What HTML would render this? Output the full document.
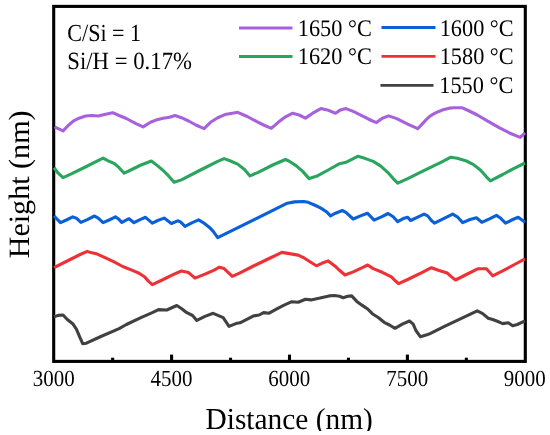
<!DOCTYPE html>
<html><head><meta charset="utf-8"><style>
html,body{margin:0;padding:0;background:#fff;}
body{width:550px;height:435px;overflow:hidden;position:relative;}
svg{position:absolute;left:0;top:0;}
text{font-family:"Liberation Serif","Times New Roman",serif;fill:#000;text-rendering:geometricPrecision;}
</style></head><body>
<svg width="550" height="435" viewBox="0 0 550 435">
<rect width="550" height="435" fill="#fff"/>
<g stroke="#000" stroke-width="3.1" fill="none">
<rect x="53.7" y="6.4" width="471.60" height="355.00" stroke-linejoin="miter"/>
<line x1="112.65" y1="361.4" x2="112.65" y2="357.7" /><line x1="171.60" y1="361.4" x2="171.60" y2="354.59999999999997" /><line x1="230.55" y1="361.4" x2="230.55" y2="357.7" /><line x1="289.50" y1="361.4" x2="289.50" y2="354.59999999999997" /><line x1="348.45" y1="361.4" x2="348.45" y2="357.7" /><line x1="407.40" y1="361.4" x2="407.40" y2="354.59999999999997" /><line x1="466.35" y1="361.4" x2="466.35" y2="357.7" />
</g>
<g fill="none" stroke-width="3.1" stroke-linejoin="round" stroke-linecap="butt">
<polyline stroke="#a761dc" points="54.5,126.9 63.1,130.9 68.2,125.5 73.6,120.9 79.1,118.2 85.5,116.0 91.8,115.5 98.2,116.0 104.5,114.5 112.7,112.7 119.1,115.5 126.4,118.5 135.5,123.3 143.1,126.9 150.5,122.3 155.9,120.1 163.2,118.3 169.5,117.2 175.0,115.5 181.4,117.7 188.6,121.0 195.9,125.0 204.1,128.6 210.5,122.3 217.7,117.7 225.0,114.6 232.3,113.2 237.7,112.3 247.3,116.5 256.4,121.4 263.6,125.0 271.3,128.3 278.2,122.3 285.5,116.8 292.7,113.2 299.1,115.0 305.5,118.1 312.7,113.2 320.9,108.6 327.3,109.9 335.5,113.2 340.5,109.9 345.9,108.6 353.2,111.4 362.3,115.9 371.4,120.5 376.5,122.6 382.3,118.3 388.6,115.9 396.8,118.6 407.7,124.1 417.7,128.7 422.1,124.1 426.1,119.7 430.1,116.1 434.1,113.7 438.2,111.7 442.2,110.1 446.2,109.0 450.0,108.1 453.6,107.7 461.8,107.7 468.2,110.5 477.3,115.0 488.2,121.4 499.1,127.7 510.0,133.2 520.2,137.4 525.0,132.8"/>
<polyline stroke="#2aa55e" points="54.0,167.7 58.2,173.2 63.1,177.7 71.8,173.7 86.4,166.5 95.5,161.9 103.1,158.1 108.2,160.8 114.5,163.7 119.1,167.7 124.2,173.2 131.8,169.5 140.9,165.0 151.4,161.0 157.7,165.9 163.2,170.5 168.6,175.9 174.1,182.3 181.4,179.9 199.5,170.5 217.7,161.4 224.1,158.6 230.5,161.0 237.7,164.1 244.5,169.5 250.0,175.9 258.2,172.3 272.7,165.0 285.5,159.5 290.0,161.7 296.4,165.9 302.7,171.4 309.1,178.6 316.4,176.3 327.3,170.5 339.6,163.7 345.9,162.3 357.7,156.3 364.1,158.1 373.2,161.4 380.5,165.9 387.7,172.3 393.2,178.6 397.7,183.2 407.7,178.6 422.3,171.4 440.9,162.3 450.9,157.2 457.3,158.3 466.4,161.0 473.6,164.6 480.9,170.5 486.4,176.8 490.4,180.8 502.7,174.5 513.6,168.6 525.0,163.0"/>
<polyline stroke="#0a60d9" points="54.0,216.0 60.5,222.7 66.4,220.0 72.7,216.9 76.4,218.2 80.9,222.4 87.3,219.6 94.5,216.0 98.2,218.2 103.1,222.7 109.1,220.0 115.5,216.9 118.2,218.7 121.8,222.4 129.1,218.7 134.0,222.7 140.0,219.6 145.5,217.3 152.3,223.2 157.7,220.5 164.1,218.1 171.4,223.5 177.7,220.8 180.5,221.9 185.0,226.3 192.3,222.6 198.6,219.9 203.2,222.6 209.5,227.4 213.2,231.4 217.7,237.7 287.3,203.2 294.5,201.9 303.6,201.5 308.2,202.3 314.5,205.0 320.9,208.1 326.4,211.7 330.5,215.9 335.5,213.2 342.3,210.5 345.9,212.3 353.2,219.0 360.5,215.9 367.4,213.2 374.1,220.1 381.4,216.8 388.1,213.5 393.2,216.8 397.7,221.7 403.2,218.6 407.7,217.2 410.5,220.5 417.7,217.2 424.1,214.1 427.7,215.9 431.4,220.5 434.5,223.2 443.6,218.6 452.7,214.1 457.3,216.8 462.7,222.6 470.0,219.5 476.4,217.7 481.8,222.3 490.0,218.6 496.4,215.4 500.0,217.7 505.5,223.2 512.7,219.5 518.2,217.2 525.0,222.2"/>
<polyline stroke="#ee3136" points="54.0,267.7 68.2,260.5 79.1,255.0 87.3,251.4 90.9,252.6 97.3,254.1 104.5,257.4 113.6,261.7 122.7,266.5 131.8,270.1 139.1,273.2 144.5,276.8 148.6,281.4 152.3,284.6 163.2,279.5 174.1,274.1 181.4,271.0 188.6,272.6 195.0,278.1 205.0,274.1 214.1,270.1 219.5,267.2 224.1,268.6 232.3,276.3 239.5,273.2 254.5,265.5 269.1,258.5 281.8,252.4 286.4,253.1 298.2,255.1 304.5,258.2 310.0,261.8 316.4,265.8 321.8,263.3 328.2,260.9 335.5,266.4 338.6,269.5 345.0,275.0 353.2,271.9 362.3,267.7 367.7,265.0 373.2,268.6 382.3,272.3 391.4,276.8 395.0,280.5 398.6,283.7 407.7,279.5 422.3,272.3 431.4,267.7 439.1,270.5 447.3,273.1 450.9,276.4 455.5,280.0 466.4,274.5 478.2,268.7 486.4,268.7 492.7,275.8 502.7,270.9 515.5,264.0 525.0,258.8"/>
<polyline stroke="#414141" points="54.0,316.8 58.2,315.4 63.1,315.0 67.3,319.5 72.7,323.7 76.4,329.2 80.0,337.7 82.7,343.7 86.4,343.2 100.9,336.5 119.1,328.6 126.4,324.5 140.9,317.7 152.3,312.7 158.6,309.6 166.8,310.0 176.8,305.5 181.4,308.5 186.8,312.7 192.6,315.5 196.8,320.4 205.0,316.4 213.2,313.3 223.2,317.6 229.0,326.4 235.9,323.6 240.0,322.8 247.3,319.2 253.6,315.9 259.1,315.0 263.6,312.6 269.1,313.2 276.4,309.2 283.6,305.4 291.8,301.7 298.2,302.3 305.5,299.2 310.9,299.9 320.0,298.1 329.1,295.9 334.5,295.5 339.5,296.3 343.2,297.7 347.7,296.3 351.7,295.9 356.8,301.4 362.3,305.4 367.7,309.0 372.3,313.7 378.6,317.7 384.1,322.3 389.5,325.0 395.0,328.3 402.3,324.1 409.5,321.0 413.2,324.1 415.9,330.5 420.5,336.8 427.7,334.5 430.0,333.6 444.5,326.4 460.9,318.7 477.3,310.9 482.7,313.6 488.2,318.2 492.7,319.5 497.3,321.3 502.7,323.6 508.2,322.7 512.7,325.8 517.3,324.5 525.0,320.9"/>
</g>
<text transform="translate(53.75,386.40) scale(1.000,1.100)" font-size="21.0" text-anchor="middle">3000</text><text transform="translate(171.60,386.40) scale(1.000,1.100)" font-size="21.0" text-anchor="middle">4500</text><text transform="translate(289.25,386.40) scale(1.000,1.100)" font-size="21.0" text-anchor="middle">6000</text><text transform="translate(407.25,386.40) scale(1.000,1.100)" font-size="21.0" text-anchor="middle">7500</text><text transform="translate(524.75,386.40) scale(1.000,1.100)" font-size="21.0" text-anchor="middle">9000</text>
<g stroke-width="2.9">
<line x1="239" y1="28" x2="292.5" y2="28" stroke="#a761dc"/>
<line x1="239" y1="56.5" x2="292.5" y2="56.5" stroke="#2aa55e"/>
<line x1="381.5" y1="27.5" x2="435.5" y2="27.5" stroke="#0a60d9"/>
<line x1="381.5" y1="56.4" x2="435.5" y2="56.4" stroke="#ee3136"/>
<line x1="380.5" y1="85.4" x2="433.5" y2="85.4" stroke="#414141"/>
</g>
<text transform="translate(67.30,40.60) scale(0.990,1.100)" font-size="22.3">C/Si = 1</text><text transform="translate(67.30,68.80) scale(1.020,1.110)" font-size="22.3">Si/H = 0.17%</text><text transform="translate(297.80,35.50) scale(1.000,1.070)" font-size="22.3">1650 °C</text><text transform="translate(297.80,64.30) scale(1.000,1.070)" font-size="22.3">1620 °C</text><text transform="translate(439.70,35.90) scale(1.000,1.070)" font-size="22.3">1600 °C</text><text transform="translate(439.70,64.40) scale(1.000,1.070)" font-size="22.3">1580 °C</text><text transform="translate(439.30,93.40) scale(1.000,1.070)" font-size="22.3">1550 °C</text><text transform="translate(289.20,429.20) scale(1.000,1.035)" font-size="29.4" text-anchor="middle">Distance (nm)</text><text transform="translate(29.40,184.40) rotate(-90) scale(1.020,1.000)" font-size="29.5" text-anchor="middle">Height (nm)</text>
<rect x="0" y="431" width="550" height="4" fill="#fff"/>
</svg>
</body></html>
